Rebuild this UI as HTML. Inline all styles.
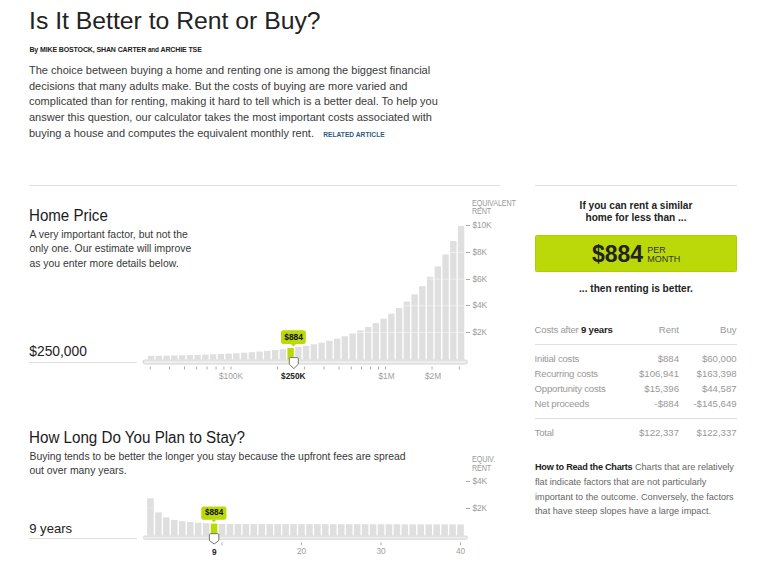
<!DOCTYPE html>
<html><head><meta charset="utf-8"><title>Is It Better to Rent or Buy?</title>
<style>
html,body{margin:0;padding:0;background:#fff;}
body{width:768px;height:570px;position:relative;overflow:hidden;font-family:"Liberation Sans", Arial, Helvetica, sans-serif;}
.t{position:absolute;white-space:nowrap;}
.rule{position:absolute;height:1px;background:#e0e0e0;}
.rel{font-size:6.6px;font-weight:bold;color:#2f5a80;letter-spacing:0.05px;}
.chart{position:absolute;left:0;top:0;}
</style></head><body>
<div class="t" style="left:29.0px;top:5.97px;font-size:24.75px;line-height:29.7px;color:#222;font-weight:normal;">Is It Better to Rent or Buy?</div>
<div class="t" style="left:29.4px;top:45.87px;font-size:7.0px;line-height:8.4px;color:#222;font-weight:bold;letter-spacing:-0.12px;">By MIKE BOSTOCK, SHAN CARTER <span style="font-size:6.4px">and</span> ARCHIE TSE</div>
<div class="t" style="left:29.0px;top:63.19px;font-size:11px;line-height:15.6px;color:#3a3a3a;font-weight:normal;">The choice between buying a home and renting one is among the biggest financial<br>decisions that many adults make. But the costs of buying are more varied and<br>complicated than for renting, making it hard to tell which is a better deal. To help you<br>answer this question, our calculator takes the most important costs associated with<br>buying a house and computes the equivalent monthly rent. &nbsp;&nbsp;<span class="rel">RELATED ARTICLE</span></div>
<div class="rule" style="left:29px;top:185px;width:471px"></div>
<div class="rule" style="left:535px;top:185px;width:202px"></div>
<div class="t" style="left:29.3px;top:206.65px;font-size:15.8px;line-height:18.96px;color:#1a1a1a;font-weight:normal;transform:scaleX(0.955);transform-origin:0 0;">Home Price</div>
<div class="t" style="left:29.5px;top:227.77px;font-size:10.4px;line-height:14.65px;color:#383838;font-weight:normal;">A very important factor, but not the<br>only one. Our estimate will improve<br>as you enter more details below.</div>
<div class="t" style="left:29.3px;top:344.04px;font-size:13.8px;line-height:16.56px;color:#222;font-weight:normal;">$250,000</div>
<div class="rule" style="left:29px;top:361.5px;width:108px;background:#e2e2e2"></div>
<div class="t" style="left:28.9px;top:429.45px;font-size:15.8px;line-height:18.96px;color:#1a1a1a;font-weight:normal;transform:scaleX(0.96);transform-origin:0 0;">How Long Do You Plan to Stay?</div>
<div class="t" style="left:29.5px;top:449.60px;font-size:10.4px;line-height:14.6px;color:#383838;font-weight:normal;">Buying tends to be better the longer you stay because the upfront fees are spread<br>out over many years.</div>
<div class="t" style="left:29.2px;top:520.70px;font-size:13.1px;line-height:15.719999999999999px;color:#222;font-weight:normal;">9 years</div>
<div class="rule" style="left:29px;top:537.5px;width:108px;background:#e2e2e2"></div>
<svg class="chart" width="768" height="570" viewBox="0 0 768 570"><rect x="147.90" y="355.91" width="6.4" height="3.59" fill="#dfdfdf"/><rect x="155.65" y="355.78" width="6.4" height="3.72" fill="#dfdfdf"/><rect x="163.40" y="355.64" width="6.4" height="3.86" fill="#dfdfdf"/><rect x="171.15" y="355.48" width="6.4" height="4.02" fill="#dfdfdf"/><rect x="178.90" y="355.30" width="6.4" height="4.20" fill="#dfdfdf"/><rect x="186.65" y="355.10" width="6.4" height="4.40" fill="#dfdfdf"/><rect x="194.40" y="354.87" width="6.4" height="4.63" fill="#dfdfdf"/><rect x="202.15" y="354.61" width="6.4" height="4.89" fill="#dfdfdf"/><rect x="209.90" y="354.32" width="6.4" height="5.18" fill="#dfdfdf"/><rect x="217.65" y="353.98" width="6.4" height="5.52" fill="#dfdfdf"/><rect x="225.40" y="353.61" width="6.4" height="5.89" fill="#dfdfdf"/><rect x="233.15" y="353.18" width="6.4" height="6.32" fill="#dfdfdf"/><rect x="240.90" y="352.70" width="6.4" height="6.80" fill="#dfdfdf"/><rect x="248.65" y="352.16" width="6.4" height="7.34" fill="#dfdfdf"/><rect x="256.40" y="351.54" width="6.4" height="7.96" fill="#dfdfdf"/><rect x="264.15" y="350.84" width="6.4" height="8.66" fill="#dfdfdf"/><rect x="271.90" y="350.06" width="6.4" height="9.44" fill="#dfdfdf"/><rect x="279.65" y="349.16" width="6.4" height="10.34" fill="#dfdfdf"/><rect x="287.40" y="347.90" width="6.4" height="11.60" fill="#bbd908"/><rect x="295.15" y="347.02" width="6.4" height="12.48" fill="#dfdfdf"/><rect x="302.90" y="345.72" width="6.4" height="13.78" fill="#dfdfdf"/><rect x="310.65" y="344.27" width="6.4" height="15.23" fill="#dfdfdf"/><rect x="318.40" y="342.61" width="6.4" height="16.89" fill="#dfdfdf"/><rect x="326.15" y="340.75" width="6.4" height="18.75" fill="#dfdfdf"/><rect x="333.90" y="338.63" width="6.4" height="20.87" fill="#dfdfdf"/><rect x="341.65" y="336.24" width="6.4" height="23.26" fill="#dfdfdf"/><rect x="349.40" y="333.54" width="6.4" height="25.96" fill="#dfdfdf"/><rect x="357.15" y="330.48" width="6.4" height="29.02" fill="#dfdfdf"/><rect x="364.90" y="327.02" width="6.4" height="32.48" fill="#dfdfdf"/><rect x="372.65" y="323.10" width="6.4" height="36.40" fill="#dfdfdf"/><rect x="380.40" y="318.67" width="6.4" height="40.83" fill="#dfdfdf"/><rect x="388.15" y="313.66" width="6.4" height="45.84" fill="#dfdfdf"/><rect x="395.90" y="308.00" width="6.4" height="51.50" fill="#dfdfdf"/><rect x="403.65" y="301.59" width="6.4" height="57.91" fill="#dfdfdf"/><rect x="411.40" y="294.34" width="6.4" height="65.16" fill="#dfdfdf"/><rect x="419.15" y="286.13" width="6.4" height="73.37" fill="#dfdfdf"/><rect x="426.90" y="276.85" width="6.4" height="82.65" fill="#dfdfdf"/><rect x="434.65" y="266.35" width="6.4" height="93.15" fill="#dfdfdf"/><rect x="442.40" y="254.48" width="6.4" height="105.02" fill="#dfdfdf"/><rect x="450.15" y="241.05" width="6.4" height="118.45" fill="#dfdfdf"/><rect x="457.90" y="225.85" width="6.4" height="133.65" fill="#dfdfdf"/><rect x="140" y="332.00" width="326" height="1" fill="#fff" opacity="0.5"/><rect x="140" y="305.30" width="326" height="1" fill="#fff" opacity="0.5"/><rect x="140" y="278.60" width="326" height="1" fill="#fff" opacity="0.5"/><rect x="140" y="251.90" width="326" height="1" fill="#fff" opacity="0.5"/><rect x="140" y="225.20" width="326" height="1" fill="#fff" opacity="0.5"/><rect x="143" y="360" width="324.5" height="4" rx="2" fill="#eee" stroke="#ccc" stroke-width="0.8"/><rect x="149.81" y="366.5" width="0.8" height="3" fill="#999"/><rect x="169.12" y="366.5" width="0.8" height="3" fill="#999"/><rect x="184.09" y="366.5" width="0.8" height="3" fill="#999"/><rect x="196.32" y="366.5" width="0.8" height="3" fill="#999"/><rect x="206.67" y="366.5" width="0.8" height="3" fill="#999"/><rect x="215.63" y="366.5" width="0.8" height="3" fill="#999"/><rect x="223.53" y="366.5" width="0.8" height="3" fill="#999"/><rect x="230.60" y="366.5" width="0.8" height="3" fill="#999"/><rect x="277.11" y="366.5" width="0.8" height="3" fill="#999"/><rect x="304.32" y="366.5" width="0.8" height="3" fill="#999"/><rect x="323.62" y="366.5" width="0.8" height="3" fill="#999"/><rect x="338.59" y="366.5" width="0.8" height="3" fill="#999"/><rect x="350.83" y="366.5" width="0.8" height="3" fill="#999"/><rect x="361.17" y="366.5" width="0.8" height="3" fill="#999"/><rect x="370.13" y="366.5" width="0.8" height="3" fill="#999"/><rect x="378.03" y="366.5" width="0.8" height="3" fill="#999"/><rect x="385.10" y="366.5" width="0.8" height="3" fill="#999"/><rect x="431.61" y="366.5" width="0.8" height="3" fill="#999"/><rect x="458.82" y="366.5" width="0.8" height="3" fill="#999"/><rect x="147.15" y="498.30" width="6.6" height="37.20" fill="#dfdfdf"/><rect x="155.10" y="512.40" width="6.6" height="23.10" fill="#dfdfdf"/><rect x="163.05" y="517.40" width="6.6" height="18.10" fill="#dfdfdf"/><rect x="171.00" y="520.00" width="6.6" height="15.50" fill="#dfdfdf"/><rect x="178.95" y="521.20" width="6.6" height="14.30" fill="#dfdfdf"/><rect x="186.90" y="521.90" width="6.6" height="13.60" fill="#dfdfdf"/><rect x="194.85" y="522.70" width="6.6" height="12.80" fill="#dfdfdf"/><rect x="202.80" y="523.20" width="6.6" height="12.30" fill="#dfdfdf"/><rect x="210.75" y="523.60" width="6.6" height="11.90" fill="#bbd908"/><rect x="218.70" y="524.00" width="6.6" height="11.50" fill="#dfdfdf"/><rect x="226.65" y="524.01" width="6.6" height="11.49" fill="#dfdfdf"/><rect x="234.60" y="524.03" width="6.6" height="11.47" fill="#dfdfdf"/><rect x="242.55" y="524.04" width="6.6" height="11.46" fill="#dfdfdf"/><rect x="250.50" y="524.05" width="6.6" height="11.45" fill="#dfdfdf"/><rect x="258.45" y="524.07" width="6.6" height="11.43" fill="#dfdfdf"/><rect x="266.40" y="524.08" width="6.6" height="11.42" fill="#dfdfdf"/><rect x="274.35" y="524.09" width="6.6" height="11.41" fill="#dfdfdf"/><rect x="282.30" y="524.11" width="6.6" height="11.39" fill="#dfdfdf"/><rect x="290.25" y="524.12" width="6.6" height="11.38" fill="#dfdfdf"/><rect x="298.20" y="524.13" width="6.6" height="11.37" fill="#dfdfdf"/><rect x="306.15" y="524.15" width="6.6" height="11.35" fill="#dfdfdf"/><rect x="314.10" y="524.16" width="6.6" height="11.34" fill="#dfdfdf"/><rect x="322.05" y="524.17" width="6.6" height="11.33" fill="#dfdfdf"/><rect x="330.00" y="524.19" width="6.6" height="11.31" fill="#dfdfdf"/><rect x="337.95" y="524.20" width="6.6" height="11.30" fill="#dfdfdf"/><rect x="345.90" y="524.21" width="6.6" height="11.29" fill="#dfdfdf"/><rect x="353.85" y="524.23" width="6.6" height="11.27" fill="#dfdfdf"/><rect x="361.80" y="524.24" width="6.6" height="11.26" fill="#dfdfdf"/><rect x="369.75" y="524.25" width="6.6" height="11.25" fill="#dfdfdf"/><rect x="377.70" y="524.27" width="6.6" height="11.23" fill="#dfdfdf"/><rect x="385.65" y="524.28" width="6.6" height="11.22" fill="#dfdfdf"/><rect x="393.60" y="524.29" width="6.6" height="11.21" fill="#dfdfdf"/><rect x="401.55" y="524.31" width="6.6" height="11.19" fill="#dfdfdf"/><rect x="409.50" y="524.32" width="6.6" height="11.18" fill="#dfdfdf"/><rect x="417.45" y="524.33" width="6.6" height="11.17" fill="#dfdfdf"/><rect x="425.40" y="524.35" width="6.6" height="11.15" fill="#dfdfdf"/><rect x="433.35" y="524.36" width="6.6" height="11.14" fill="#dfdfdf"/><rect x="441.30" y="524.37" width="6.6" height="11.13" fill="#dfdfdf"/><rect x="449.25" y="524.39" width="6.6" height="11.11" fill="#dfdfdf"/><rect x="457.20" y="524.40" width="6.6" height="11.10" fill="#dfdfdf"/><rect x="140" y="507.80" width="326" height="1" fill="#fff" opacity="0.3"/><rect x="140" y="480.90" width="326" height="1" fill="#fff" opacity="0.3"/><rect x="143.4" y="536" width="324" height="3.2" rx="1.6" fill="#eee" stroke="#ccc" stroke-width="0.8"/><rect x="221.60" y="542.3" width="0.8" height="3" fill="#999"/><rect x="301.10" y="542.3" width="0.8" height="3" fill="#999"/><rect x="380.60" y="542.3" width="0.8" height="3" fill="#999"/><rect x="460.10" y="542.3" width="0.8" height="3" fill="#999"/><path d="M289.30,358.60 Q289.30,357.60 290.30,357.60 L297.30,357.60 Q298.30,357.60 298.30,358.60 L298.30,364.20 L293.80,368.60 L289.30,364.20 Z" fill="#fff" stroke="#666" stroke-width="0.9"/><path d="M209.40,534.70 Q209.40,533.70 210.40,533.70 L217.80,533.70 Q218.80,533.70 218.80,534.70 L218.80,540.50 L214.10,544.00 L209.40,540.50 Z" fill="#fff" stroke="#666" stroke-width="0.9"/><rect x="281.00" y="330.30" width="24.8" height="13.70" rx="2.5" fill="#bbd908"/><path d="M290.90,344.00 L293.40,346.50 L295.90,344.00 Z" fill="#bbd908"/><rect x="201.20" y="506.40" width="25.2" height="13.30" rx="2.5" fill="#bbd908"/><path d="M211.30,519.70 L213.80,522.20 L216.30,519.70 Z" fill="#bbd908"/></svg>
<div class="t" style="left:284.3px;top:332.05px;font-size:8.4px;line-height:10.08px;color:#111;font-weight:bold;width:18px;text-align:center;">$884</div>
<div class="t" style="left:205px;top:508.34px;font-size:8.2px;line-height:9.839999999999998px;color:#111;font-weight:bold;width:18px;text-align:center;">$884</div>
<div class="t" style="left:201.0px;top:372.04px;font-size:8.3px;line-height:9.96px;color:#a0a0a0;font-weight:normal;width:60px;text-align:center;">$100K</div>
<div class="t" style="left:263.2831081087558px;top:372.14px;font-size:8.3px;line-height:9.96px;color:#222;font-weight:bold;width:60px;text-align:center;">$250K</div>
<div class="t" style="left:356.50345973990045px;top:372.04px;font-size:8.3px;line-height:9.96px;color:#a0a0a0;font-weight:normal;width:60px;text-align:center;">$1M</div>
<div class="t" style="left:403.0136355554728px;top:372.04px;font-size:8.3px;line-height:9.96px;color:#a0a0a0;font-weight:normal;width:60px;text-align:center;">$2M</div>
<div class="t" style="left:184.2px;top:547.74px;font-size:8.3px;line-height:9.96px;color:#222;font-weight:bold;width:60px;text-align:center;">9</div>
<div class="t" style="left:271.5px;top:547.24px;font-size:8.3px;line-height:9.96px;color:#a0a0a0;font-weight:normal;width:60px;text-align:center;">20</div>
<div class="t" style="left:351.0px;top:547.24px;font-size:8.3px;line-height:9.96px;color:#a0a0a0;font-weight:normal;width:60px;text-align:center;">30</div>
<div class="t" style="left:430.5px;top:547.24px;font-size:8.3px;line-height:9.96px;color:#a0a0a0;font-weight:normal;width:60px;text-align:center;">40</div>
<div class="t" style="left:472px;top:198.55px;font-size:8.5px;line-height:8.6px;color:#999;font-weight:normal;letter-spacing:-0.1px;transform:scaleX(0.84);transform-origin:0 0;">EQUIVALENT<br>RENT</div>
<div class="t" style="left:472.6px;top:328.14px;font-size:8.3px;line-height:9.96px;color:#9a9a9a;font-weight:normal;letter-spacing:-0.15px;">$2K</div>
<div style="position:absolute;left:466px;top:332.00px;width:4px;height:1px;background:#aaa"></div>
<div class="t" style="left:472.6px;top:301.44px;font-size:8.3px;line-height:9.96px;color:#9a9a9a;font-weight:normal;letter-spacing:-0.15px;">$4K</div>
<div style="position:absolute;left:466px;top:305.30px;width:4px;height:1px;background:#aaa"></div>
<div class="t" style="left:472.6px;top:274.74px;font-size:8.3px;line-height:9.96px;color:#9a9a9a;font-weight:normal;letter-spacing:-0.15px;">$6K</div>
<div style="position:absolute;left:466px;top:278.60px;width:4px;height:1px;background:#aaa"></div>
<div class="t" style="left:472.6px;top:248.04px;font-size:8.3px;line-height:9.96px;color:#9a9a9a;font-weight:normal;letter-spacing:-0.15px;">$8K</div>
<div style="position:absolute;left:466px;top:251.90px;width:4px;height:1px;background:#aaa"></div>
<div class="t" style="left:472.6px;top:221.34px;font-size:8.3px;line-height:9.96px;color:#9a9a9a;font-weight:normal;letter-spacing:-0.15px;">$10K</div>
<div style="position:absolute;left:466px;top:225.20px;width:4px;height:1px;background:#aaa"></div>
<div class="t" style="left:472px;top:455.10px;font-size:8.5px;line-height:8.7px;color:#999;font-weight:normal;letter-spacing:-0.1px;transform:scaleX(0.84);transform-origin:0 0;">EQUIV.<br>RENT</div>
<div class="t" style="left:472.6px;top:503.94px;font-size:8.3px;line-height:9.96px;color:#9a9a9a;font-weight:normal;letter-spacing:-0.15px;">$2K</div>
<div style="position:absolute;left:466px;top:507.80px;width:4px;height:1px;background:#aaa"></div>
<div class="t" style="left:472.6px;top:477.04px;font-size:8.3px;line-height:9.96px;color:#9a9a9a;font-weight:normal;letter-spacing:-0.15px;">$4K</div>
<div style="position:absolute;left:466px;top:480.90px;width:4px;height:1px;background:#aaa"></div>
<div class="t" style="left:535px;width:202px;text-align:center;top:199.50px;font-size:10.1px;line-height:12.4px;color:#222;font-weight:bold">If you can rent a similar<br>home for less than ...</div>
<div style="position:absolute;left:534.6px;top:234.6px;width:202px;height:37.4px;background:#bbd908;border-radius:1.5px;box-sizing:border-box;border:1px solid #b0cc08"></div>
<div class="t" style="left:591.9px;top:241.43px;font-size:23px;line-height:27.599999999999998px;color:#222;font-weight:bold;">$884</div>
<div class="t" style="left:647.3px;top:245.73px;font-size:9.0px;line-height:9.1px;color:#333;font-weight:normal;">PER<br>MONTH</div>
<div class="t" style="left:535px;width:202px;text-align:center;top:283.04px;font-size:10.1px;line-height:12.12px;color:#222;font-weight:bold">... then renting is better.</div>
<div class="t" style="left:534.6px;top:324.21px;font-size:9.6px;line-height:11.52px;color:#999;font-weight:normal;letter-spacing:-0.22px;">Costs after <b style="color:#222">9 years</b></div>
<div class="t" style="left:619px;width:60px;text-align:right;top:324.22px;font-size:9.6px;line-height:11.5px;color:#999">Rent</div>
<div class="t" style="left:676.6px;width:60px;text-align:right;top:324.22px;font-size:9.6px;line-height:11.5px;color:#999">Buy</div>
<div class="rule" style="left:534.6px;top:343.7px;width:202px"></div>
<div class="t" style="left:534.6px;top:352.71px;font-size:9.6px;line-height:11.52px;color:#999;font-weight:normal;letter-spacing:-0.22px;">Initial costs</div>
<div class="t" style="left:619px;width:60px;text-align:right;top:352.72px;font-size:9.6px;line-height:11.5px;color:#999">$884</div>
<div class="t" style="left:676.6px;width:60px;text-align:right;top:352.72px;font-size:9.6px;line-height:11.5px;color:#999">$60,000</div>
<div class="t" style="left:534.6px;top:367.91px;font-size:9.6px;line-height:11.52px;color:#999;font-weight:normal;letter-spacing:-0.22px;">Recurring costs</div>
<div class="t" style="left:619px;width:60px;text-align:right;top:367.92px;font-size:9.6px;line-height:11.5px;color:#999">$106,941</div>
<div class="t" style="left:676.6px;width:60px;text-align:right;top:367.92px;font-size:9.6px;line-height:11.5px;color:#999">$163,398</div>
<div class="t" style="left:534.6px;top:383.01px;font-size:9.6px;line-height:11.52px;color:#999;font-weight:normal;letter-spacing:-0.22px;">Opportunity costs</div>
<div class="t" style="left:619px;width:60px;text-align:right;top:383.02px;font-size:9.6px;line-height:11.5px;color:#999">$15,396</div>
<div class="t" style="left:676.6px;width:60px;text-align:right;top:383.02px;font-size:9.6px;line-height:11.5px;color:#999">$44,587</div>
<div class="t" style="left:534.6px;top:397.71px;font-size:9.6px;line-height:11.52px;color:#999;font-weight:normal;letter-spacing:-0.22px;">Net proceeds</div>
<div class="t" style="left:619px;width:60px;text-align:right;top:397.72px;font-size:9.6px;line-height:11.5px;color:#999">-$884</div>
<div class="t" style="left:676.6px;width:60px;text-align:right;top:397.72px;font-size:9.6px;line-height:11.5px;color:#999">-$145,649</div>
<div class="rule" style="left:534.6px;top:417.7px;width:202px"></div>
<div class="t" style="left:534.6px;top:426.91px;font-size:9.6px;line-height:11.52px;color:#999;font-weight:normal;letter-spacing:-0.22px;">Total</div>
<div class="t" style="left:619px;width:60px;text-align:right;top:426.92px;font-size:9.6px;line-height:11.5px;color:#999">$122,337</div>
<div class="t" style="left:676.6px;width:60px;text-align:right;top:426.92px;font-size:9.6px;line-height:11.5px;color:#999">$122,337</div>
<div class="t" style="left:535px;top:460.03px;font-size:9.15px;line-height:14.8px;color:#666;font-weight:normal;"><b style="color:#222;letter-spacing:-0.25px">How to Read the Charts</b> Charts that are relatively<br>flat indicate factors that are not particularly<br>important to the outcome. Conversely, the factors<br>that have steep slopes have a large impact.</div>
</body></html>
